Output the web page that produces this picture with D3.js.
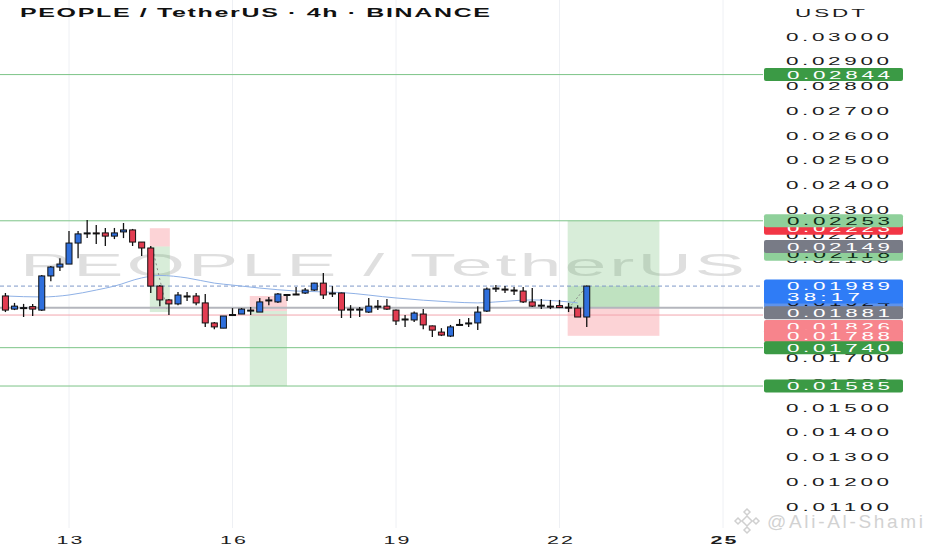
<!DOCTYPE html>
<html><head><meta charset="utf-8">
<script src="https://cdn.jsdelivr.net/npm/d3@7"></script>
<style>body{margin:0;background:#fff}svg{display:block}text{font-family:"Liberation Sans",Arial,sans-serif}</style>
</head><body>
<svg id="c" width="932" height="550"></svg>
<script>
// ---- data ----
const title = "PEOPLE / TetherUS · 4h · BINANCE";
const watermark = "PEOPLE / TetherUS";
const author = "@Ali-Al-Shami";
const currency = "USDT";
const openP  = [0.01949,0.01896,0.01900,0.01906,0.01892,0.02030,0.02066,0.02078,0.02163,0.02200,0.02204,0.02204,0.02191,0.02208,0.02216,0.02167,0.02143,0.01989,0.01933,0.01917,0.01949,0.01949,0.01921,0.01840,0.01819,0.01872,0.01876,0.01890,0.01884,0.01931,0.01925,0.01955,0.01955,0.01961,0.01973,0.02001,0.01961,0.01961,0.01896,0.01894,0.01884,0.01906,0.01908,0.01892,0.01856,0.01852,0.01876,0.01828,0.01803,0.01787,0.01832,0.01838,0.01840,0.01888,0.01979,0.01977,0.01973,0.01969,0.01925,0.01910,0.01908,0.01910,0.01904,0.01900,0.01864];
const highP  = [0.01961,0.01921,0.01917,0.01917,0.02034,0.02070,0.02102,0.02212,0.02212,0.02256,0.02236,0.02224,0.02224,0.02244,0.02220,0.02167,0.02151,0.01993,0.01937,0.01965,0.01965,0.01961,0.01957,0.01844,0.01868,0.01900,0.01900,0.01904,0.01941,0.01945,0.01961,0.01957,0.01985,0.01981,0.02003,0.02042,0.01989,0.01963,0.01912,0.01904,0.01941,0.01933,0.01937,0.01894,0.01872,0.01886,0.01896,0.01830,0.01819,0.01832,0.01856,0.01860,0.01908,0.01983,0.01993,0.01989,0.01985,0.01985,0.01981,0.01937,0.01933,0.01933,0.01921,0.01912,0.01991];
const lowP   = [0.01884,0.01892,0.01864,0.01868,0.01888,0.02009,0.02050,0.02078,0.02102,0.02183,0.02159,0.02151,0.02179,0.02183,0.02151,0.02111,0.01961,0.01908,0.01872,0.01912,0.01929,0.01912,0.01824,0.01815,0.01819,0.01870,0.01876,0.01872,0.01884,0.01912,0.01921,0.01929,0.01953,0.01957,0.01969,0.01937,0.01945,0.01860,0.01860,0.01864,0.01880,0.01892,0.01892,0.01832,0.01824,0.01844,0.01815,0.01783,0.01787,0.01783,0.01830,0.01824,0.01811,0.01884,0.01965,0.01961,0.01953,0.01921,0.01904,0.01896,0.01896,0.01900,0.01884,0.01864,0.01824];
const closeP = [0.01892,0.01908,0.01902,0.01896,0.02030,0.02066,0.02078,0.02163,0.02200,0.02204,0.02202,0.02191,0.02204,0.02216,0.02167,0.02143,0.01989,0.01933,0.01917,0.01953,0.01948,0.01921,0.01840,0.01824,0.01868,0.01874,0.01896,0.01892,0.01925,0.01933,0.01957,0.01951,0.01957,0.01973,0.02001,0.01953,0.01959,0.01892,0.01894,0.01896,0.01908,0.01908,0.01896,0.01848,0.01854,0.01880,0.01832,0.01811,0.01791,0.01824,0.01834,0.01840,0.01884,0.01977,0.01981,0.01975,0.01971,0.01925,0.01908,0.01912,0.01906,0.01902,0.01902,0.01864,0.01989];
const maIdx = [0,4,7,10,12,15,17,20,23,25,28,32,37,43,49,52,54,58,62,63];
const maVal = [0.01949,0.01945,0.01953,0.01973,0.01989,0.02022,0.02032,0.02022,0.02001,0.01993,0.01981,0.01969,0.01963,0.01941,0.01925,0.01921,0.01925,0.01933,0.01925,0.01921];
const dayIdx = [7,25,43,61,79];
const dayLabels = ["13","16","19","22","25"];
const priceTicks = [0.030,0.029,0.028,0.027,0.026,0.025,0.024,0.023,0.022,0.021,0.020,0.019,0.018,0.017,0.016,0.015,0.014,0.013,0.012,0.011];
const levelPrices = [0.02844,0.02253,0.01740,0.01585];
const lastPrice = 0.01989;
const countdown = "38:17";
const entryLine = 0.01901, stopLine = 0.01872;
// position tools: [startIdx, endIdx, entry, stop, target]
const positions = [[15.9,18.1,0.02149,0.02223,0.01884],[26.9,31.0,0.01888,0.01949,0.01585],[61.9,72.0,0.01901,0.01788,0.02253]];
const labelPrices = [0.02844,0.02223,0.02253,0.02118,0.02149,0.01924,0.01989,0.01881,0.01826,0.01788,0.01740,0.01585];
const labelKinds  = ["level","stop","target","target","entry","ma","last","entry","stop","stop","level","level"];

// ---- drawing ----
const svg = d3.select("#c");
const plotR = 763;
const x = d3.scaleLinear().domain([7,79]).range([69,723]);
const y = d3.scaleLinear().domain([0.011,0.030]).range([506,36]);
const fmt = d3.format(".5f");
const SX = 1.95;

function stretch(t, X, Y, w, sx){
  t.attr("x",0).attr("y",0).attr("transform",`translate(${X},${Y}) scale(${sx},1)`)
   .attr("textLength", w/sx).attr("lengthAdjust","spacing");
}

// grid
svg.append("g").selectAll("line").data(dayIdx).join("line")
  .attr("x1",d=>x(d)).attr("x2",d=>x(d)).attr("y1",0).attr("y2",528)
  .attr("stroke","#eef0f4").attr("stroke-width",1);

// watermark
const wm = svg.append("text").text(watermark).attr("font-size",32).attr("fill","#dadada").attr("opacity",0.85);
stretch(wm, 20, 276, 725, 2.35);

// position tools
const pg = svg.append("g");
positions.forEach(([a,b,en,st,tg])=>{
  const x0 = x(a), x1 = x(b);
  pg.append("rect").attr("x",x0).attr("width",x1-x0)
    .attr("y",Math.min(y(en),y(st))).attr("height",Math.abs(y(en)-y(st)))
    .attr("fill","rgba(242,54,69,0.22)");
  pg.append("rect").attr("x",x0).attr("width",x1-x0)
    .attr("y",Math.min(y(en),y(tg))).attr("height",Math.abs(y(en)-y(tg)))
    .attr("fill","rgba(76,175,80,0.22)");
});
{
  const p = positions[2];
  pg.append("rect").attr("x",x(p[0])).attr("width",x(p[1])-x(p[0]))
    .attr("y",y(lastPrice)).attr("height",y(p[2])-y(lastPrice)).attr("fill","rgba(76,175,80,0.18)");
  pg.append("line").attr("x1",x(62.3)).attr("y1",y(0.01912)).attr("x2",x(63.9)).attr("y2",y(0.01985))
    .attr("stroke","#8a8a8a").attr("stroke-dasharray","2,2");
  const q = positions[0];
  pg.append("line").attr("x1",x(16.2)).attr("y1",y(0.02140)).attr("x2",x(17.8)).attr("y2",y(0.01892))
    .attr("stroke","#8a8a8a").attr("stroke-dasharray","2,3");
}

// horizontal levels
svg.append("g").selectAll("line").data(levelPrices).join("line")
  .attr("x1",0).attr("x2",plotR).attr("y1",d=>y(d)).attr("y2",d=>y(d))
  .attr("stroke","#7cc487").attr("stroke-width",1);
svg.append("line").attr("x1",0).attr("x2",plotR).attr("y1",y(entryLine)).attr("y2",y(entryLine))
  .attr("stroke","#b4b6bd").attr("stroke-width",2);
svg.append("line").attr("x1",0).attr("x2",plotR).attr("y1",y(stopLine)).attr("y2",y(stopLine))
  .attr("stroke","#f2a6ad").attr("stroke-width",1);
svg.append("line").attr("x1",0).attr("x2",plotR).attr("y1",y(lastPrice)).attr("y2",y(lastPrice))
  .attr("stroke","#7f98c8").attr("stroke-width",1).attr("stroke-dasharray","4,3");

// moving average
svg.append("path").datum(maIdx.map((d,i)=>[d,maVal[i]]))
  .attr("d",d3.line().x(d=>x(d[0])).y(d=>y(d[1])).curve(d3.curveMonotoneX))
  .attr("fill","none").attr("stroke","#8fb1e6").attr("stroke-width",1);

// candles
const candles = openP.map((o,i)=>({i,o,h:highP[i],l:lowP[i],c:closeP[i]}));
const cg = svg.append("g").selectAll("g").data(candles).join("g");
cg.append("line").attr("x1",d=>x(d.i)).attr("x2",d=>x(d.i))
  .attr("y1",d=>y(d.h)).attr("y2",d=>y(d.l)).attr("stroke","#111").attr("stroke-width",1.3);
cg.append("rect").attr("x",d=>x(d.i)-3).attr("width",6)
  .attr("y",d=>y(Math.max(d.o,d.c))).attr("height",d=>Math.max(1,Math.abs(y(d.o)-y(d.c))))
  .attr("fill",d=>d.c>=d.o?"#2f6fdc":"#e23d52").attr("stroke","#111").attr("stroke-width",1);

// price axis
const ya = svg.append("g").attr("transform","translate(786,0)")
  .call(d3.axisRight(y).tickValues(priceTicks).tickSize(0).tickPadding(0).tickFormat(fmt));
ya.select(".domain").remove();
ya.selectAll("text").each(function(){
  const t = d3.select(this);
  t.attr("fill","#1c1c1c").attr("font-size",11.5).attr("text-anchor","start").attr("dy","0.36em");
  stretch(t,0,0,103,SX);
});
const ut = svg.append("text").text(currency).attr("font-size",11.5).attr("fill","#1c1c1c");
stretch(ut, 795, 17, 70, SX);

// x axis
const xa = svg.append("g").attr("transform","translate(0,540)")
  .call(d3.axisBottom(x).tickValues(dayIdx).tickSize(0).tickPadding(0).tickFormat((d,i)=>dayLabels[i]));
xa.select(".domain").remove();
xa.selectAll("text").each(function(d,i){
  const t = d3.select(this);
  t.attr("fill","#1c1c1c").attr("font-size",11).attr("dy","0.36em").attr("text-anchor","middle")
   .attr("font-weight", i===dayIdx.length-1 ? "bold" : "normal");
  stretch(t,0,0,26,SX);
});

// price labels
const styles = {
  level:{bg:"#3b9a45",fg:"#ffffff"}, target:{bg:"#8fd09a",fg:"#0f2d16"},
  stop:{bg:"#f23645",fg:"#ffffff"}, entry:{bg:"#787b86",fg:"#ffffff"},
  ma:{bg:"#5f93ea",fg:"#111111"}, last:{bg:"#2f7cf6",fg:"#ffffff"}
};
const lg = svg.append("g");
labelPrices.forEach((p,i)=>{
  const k = labelKinds[i];
  const st = styles[k];
  const bg = (k==="stop" && p<0.019) ? "#f7848c" : st.bg;
  const cy = y(p);
  const h = k==="last" ? 24 : 13;
  lg.append("rect").attr("x",764).attr("width",139).attr("y",cy-6.5).attr("height",h)
    .attr("rx",2).attr("fill",bg);
  const t = lg.append("text").text(fmt(p)).attr("font-size",11.5).attr("fill",st.fg).attr("dy","0.36em");
  stretch(t,787,cy,103,SX);
  if (k==="last"){
    const t2 = lg.append("text").text(countdown).attr("font-size",11.5).attr("fill","#ffffff").attr("dy","0.36em");
    stretch(t2,787,cy+11,73,SX);
  }
});

// title
const tt = svg.append("text").text(title).attr("font-size",13.5).attr("font-weight","bold").attr("fill","#111");
stretch(tt, 20, 17, 470, 1.85);

// author watermark + logo
const lgo = svg.append("g").attr("transform","translate(747,521)").attr("fill","none").attr("stroke","#d0d0d0").attr("stroke-width",1.5);
[[0,0,5],[0,-9,3],[0,9,3],[-9,0,3],[9,0,3]].forEach(([dx,dy,r])=>{
  lgo.append("path").attr("d",`M${dx},${dy-r}L${dx+r},${dy}L${dx},${dy+r}L${dx-r},${dy}Z`);
});
const at = svg.append("text").text(author).attr("font-size",19).attr("fill","#d2d2d2");
stretch(at, 767, 528, 156, 1.0);
</script>
</body></html>
